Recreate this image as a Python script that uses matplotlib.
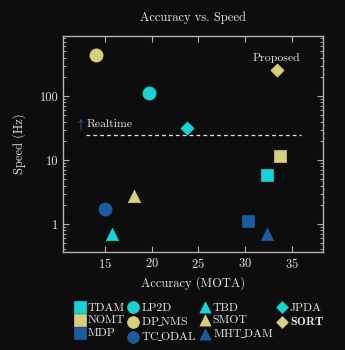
import matplotlib
matplotlib.use('Agg')
import matplotlib.pyplot as plt
from matplotlib.ticker import FixedLocator, LogLocator, NullFormatter, FuncFormatter

plt.rcParams['font.family'] = 'serif'
plt.rcParams['font.serif'] = ['cmr10', 'DejaVu Serif']
plt.rcParams['mathtext.fontset'] = 'cm'
plt.rcParams['axes.formatter.use_mathtext'] = True

BG = '#0d0d0d'
FG = '#e6e6e6'
SPINE = '#b4b4b4'
CYAN = '#17d3d3'
YELLOW = '#d6cf7c'
BLUE = '#1b5b9f'

# data
names = ['TDAM', 'NOMT', 'MDP', 'LP2D', 'DP_NMS', 'TC_ODAL',
         'TBD', 'SMOT', 'MHT_DAM', 'JPDA', 'SORT']
mota = [32.4, 33.7, 30.3, 19.7, 14.0, 15.0, 15.8, 18.1, 32.4, 23.8, 33.4]
speed = [5.9, 11.5, 1.1, 112, 444, 1.7, 0.71, 2.7, 0.71, 32, 260]
markers = ['s', 's', 's', 'o', 'o', 'o', '^', '^', '^', 'D', 'D']
colors = [CYAN, YELLOW, BLUE, CYAN, YELLOW, BLUE, CYAN, YELLOW, BLUE, CYAN, YELLOW]
sizes = [80, 80, 80, 90, 90, 90, 80, 80, 80, 45, 45]
realtime_hz = 25
realtime_range = [13.0, 36.0]

labels = []
for n in names:
    if n == 'SORT':
        labels.append(r'$\mathbf{SORT}$')
    elif '_' in n:
        labels.append(r'$\mathrm{' + n.replace('_', r'\!\_\!') + '}$')
    else:
        labels.append(n)

fig = plt.figure(figsize=(3.45, 3.5), dpi=100, facecolor=BG)
ax = fig.add_axes([0.184, 0.281, 0.751, 0.616], facecolor=BG)

for x, y, m, c, s, lab in zip(mota, speed, markers, colors, sizes, labels):
    ax.scatter([x], [y], marker=m, s=s, color=c, edgecolors=c, linewidths=0.5,
               label=lab, zorder=3)

ax.plot(realtime_range, [realtime_hz, realtime_hz], '--', color=FG, lw=0.9, dashes=(3, 2.5))
ax.text(12.35, 36, r'$\uparrow$', color='#4a90e0', fontsize=8.5, va='center', ha='center')
ax.text(13.05, 36, 'Realtime', color=FG, fontsize=8.5, va='center', ha='left')
ax.text(33.4, 400, 'Proposed', color=FG, fontsize=8.5, va='center', ha='center')

ax.set_yscale('log')
ax.set_xlim(10.55, 38.3)
ax.set_ylim(0.37, 870)
ax.xaxis.set_major_locator(FixedLocator([15, 20, 25, 30, 35]))
ax.yaxis.set_major_locator(FixedLocator([1, 10, 100]))
ax.yaxis.set_major_formatter(FuncFormatter(lambda v, p: '%g' % v))
ax.yaxis.set_minor_locator(LogLocator(base=10, subs=range(2, 10)))
ax.yaxis.set_minor_formatter(NullFormatter())

ax.tick_params(which='both', direction='in', top=True, right=True, colors=SPINE,
               labelcolor=FG, labelsize=9)
ax.tick_params(which='major', length=4, width=0.8)
ax.tick_params(which='minor', length=2, width=0.6)
for sp in ax.spines.values():
    sp.set_color(SPINE)
    sp.set_linewidth(1.0)

ax.set_title('Accuracy vs. Speed', color=FG, fontsize=9, pad=11)
ax.set_xlabel('Accuracy (MOTA)', color=FG, fontsize=9)
ax.set_ylabel('Speed (Hz)', color=FG, fontsize=9, labelpad=10)

leg = ax.legend(loc='upper left', bbox_to_anchor=(0.04, -0.235), ncol=4, frameon=False,
                fontsize=8.5, handletextpad=0.2, columnspacing=0.15, labelspacing=0.2,
                handlelength=1.0, borderaxespad=0, borderpad=0, markerscale=0.9)
for t in leg.get_texts():
    t.set_color(FG)

fig.savefig('out.png', dpi=100, facecolor=BG)
